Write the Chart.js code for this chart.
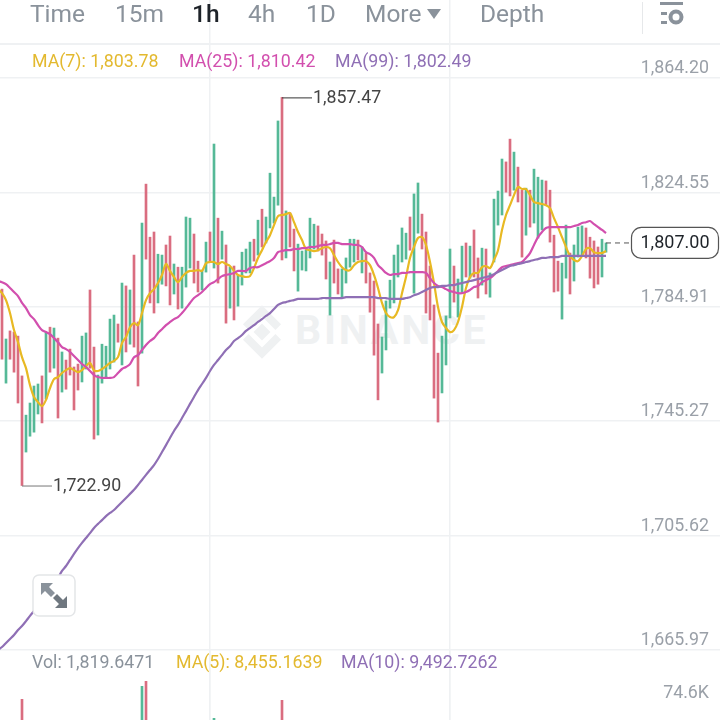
<!DOCTYPE html>
<html>
<head>
<meta charset="utf-8">
<title>ETH 1h</title>
<script src="https://cdn.jsdelivr.net/npm/chart.js@4"></script>
<style>
  html, body { margin: 0; padding: 0; background: #fff; }
  body { width: 720px; height: 720px; overflow: hidden; position: relative; font-family: Roboto, sans-serif; }
  canvas { position: absolute; left: -4px; }
  .t { position: absolute; white-space: nowrap; line-height: 1; }
  .tab { top: 2px; font-size: 24.5px; color: #8a929b; }
  .leg { font-size: 17.8px; }
  .rule { position: absolute; left: 0; width: 720px; height: 2px; background: #eff1f3; }
  .wm { left: 295px; top: 310px; font-size: 41px; font-weight: 700; letter-spacing: 2.8px; color: #eff1f2; }
</style>
</head>
<body>
<div class="rule" style="top:43px"></div>

<!-- watermark sits behind the transparent canvas -->
<svg style="position:absolute;left:234px;top:304px" width="56" height="56" viewBox="-28 -28 56 56">
  <g fill="#eff1f2" transform="rotate(45)">
    <rect x="-6" y="-6" width="12" height="12"/>
    <path d="M-19 -19H8V-11H-11V8H-19Z"/>
    <path d="M19 19H-8V11H11V-8H19Z"/>
  </g>
</svg>
<div class="t wm">BINANCE</div>

<canvas id="priceChart" width="724" height="720" style="top:0"></canvas>
<canvas id="volumeChart" width="724" height="70" style="top:650px"></canvas>

<div class="t tab" style="left:30px">Time</div>
<div class="t tab" style="left:115px">15m</div>
<div class="t tab" style="left:192px;color:#1e2329;font-weight:500">1h</div>
<div class="t tab" style="left:248px">4h</div>
<div class="t tab" style="left:306px">1D</div>
<div class="t tab" style="left:365px">More</div>
<svg style="position:absolute;left:427px;top:9px" width="14" height="11"><path d="M0 0H14L7 10Z" fill="#8a929b"/></svg>
<div class="t tab" style="left:480px">Depth</div>
<div style="position:absolute;left:642px;top:2px;width:1px;height:32px;background:#e6e8ea"></div>
<svg style="position:absolute;left:658px;top:1px" width="28" height="26">
  <rect x="2" y="1" width="23" height="3" fill="#8a929b"/>
  <rect x="3" y="11" width="6" height="3" fill="#8a929b"/>
  <rect x="3" y="20" width="6" height="3" fill="#8a929b"/>
  <circle cx="18" cy="16" r="5.5" fill="none" stroke="#8a929b" stroke-width="4"/>
</svg>

<div class="t leg" style="left:32px;top:52px;color:#e3b92f">MA(7): 1,803.78</div>
<div class="t leg" style="left:179px;top:52px;color:#d24fae">MA(25): 1,810.42</div>
<div class="t leg" style="left:335px;top:52px;color:#8f6fb5">MA(99): 1,802.49</div>

<div class="t leg" style="left:32px;top:653px;color:#8a929b">Vol: 1,819.6471</div>
<div class="t leg" style="left:176px;top:653px;color:#e3b92f">MA(5): 8,455.1639</div>
<div class="t leg" style="left:341px;top:653px;color:#8f6fb5">MA(10): 9,492.7262</div>

<svg style="position:absolute;left:32px;top:574px" width="44" height="43" viewBox="0 0 44 43">
  <rect x="1" y="1" width="42" height="41" rx="6" fill="#fff" stroke="#e4e6e8" stroke-width="1.5"/>
  <path d="M9 9H21L17 13L23 19L19 23L13 17L9 21Z" fill="#8a929b"/>
  <path d="M35 34H23L27 30L21 24L25 20L31 26L35 22Z" fill="#6f777f"/>
</svg>

<script>
// candles, one per hour
const barHigh = [
  1791.0,1773.7,1776.5,1776.1,1774.7,1760.9,1747.3,1751.5,1757.4,1758.1,
  1760.9,1776.1,1777.8,1777.5,1774.0,1769.2,1766.4,1770.2,1764.0,1765.0,
  1774.7,1775.8,1790.7,1770.9,1761.2,1771.9,1771.2,1780.6,1782.0,1778.9,
  1793.1,1792.1,1790.7,1802.8,1779.6,1813.9,1827.4,1809.0,1810.8,1803.1,
  1802.8,1806.3,1809.4,1799.7,1798.6,1798.6,1816.0,1815.6,1810.1,1800.7,
  1797.6,1807.3,1810.8,1841.3,1815.6,1811.1,1806.3,1798.6,1799.0,1795.9,
  1803.8,1804.9,1807.3,1808.3,1814.9,1818.7,1816.0,1831.2,1822.9,1849.3,
  1857.47,1818.1,1817.4,1811.8,1806.6,1804.2,1804.5,1815.6,1813.5,1812.9,
  1810.1,1807.7,1800.4,1808.0,1798.0,1798.0,1801.8,1808.3,1808.3,1808.0,
  1805.6,1803.5,1796.6,1793.8,1778.9,1774.4,1786.9,1794.1,1802.8,1806.3,
  1812.2,1810.4,1816.0,1824.0,1827.8,1817.0,1810.8,1799.0,1785.5,1768.8,
  1774.7,1781.7,1804.9,1799.0,1794.5,1805.9,1807.0,1805.9,1811.5,1801.8,
  1805.2,1804.9,1796.6,1822.2,1825.0,1836.1,1835.1,1843.0,1838.5,1833.3,
  1825.3,1826.0,1825.3,1832.6,1829.8,1828.8,1828.5,1825.3,1809.7,1800.7,
  1800.0,1813.2,1803.5,1806.3,1812.5,1812.9,1812.2,1809.0,1807.7,1805.6,
  1808.3,1807.0
];
const barLow = [
  1766.7,1758.4,1766.7,1762.2,1751.5,1722.9,1734.5,1740.0,1741.4,1747.7,
  1744.6,1752.9,1762.2,1763.6,1746.3,1755.3,1756.3,1761.2,1749.1,1756.0,
  1758.8,1763.3,1763.6,1739.0,1740.4,1758.4,1760.5,1763.3,1765.7,1772.6,
  1764.7,1769.2,1771.9,1770.9,1757.4,1768.8,1801.4,1786.2,1782.7,1786.2,
  1792.7,1792.1,1785.5,1789.3,1784.1,1784.4,1791.7,1798.3,1793.1,1790.0,
  1790.7,1796.9,1800.4,1798.3,1793.1,1801.4,1779.2,1784.4,1780.3,1785.1,
  1792.4,1796.6,1796.6,1800.7,1802.8,1805.6,1807.0,1812.2,1813.9,1820.1,
  1801.1,1801.8,1805.6,1797.3,1790.3,1797.6,1797.3,1801.8,1804.9,1804.2,
  1802.8,1794.5,1782.0,1793.1,1789.3,1788.2,1793.1,1798.6,1800.4,1801.1,
  1796.6,1793.1,1783.0,1768.1,1752.6,1761.9,1769.9,1784.4,1786.2,1795.2,
  1800.4,1801.4,1804.5,1789.6,1810.4,1804.9,1782.7,1780.3,1753.2,1744.9,
  1755.0,1764.7,1781.0,1786.5,1781.3,1790.0,1795.2,1794.8,1795.2,1787.9,
  1792.4,1789.3,1788.2,1800.4,1813.2,1816.7,1824.6,1823.3,1825.3,1821.2,
  1802.1,1809.7,1812.5,1813.9,1808.7,1811.5,1820.1,1807.3,1790.0,1790.3,
  1780.6,1794.8,1789.3,1793.8,1802.1,1802.8,1801.8,1794.8,1791.4,1792.7,
  1795.2,1803.8
];
// 1 = closed up (green), 0 = closed down (red)
const barUp = [
  0,1,0,0,0,0,1,1,1,1,
  0,1,0,1,0,1,0,0,0,0,
  1,1,0,0,1,1,1,1,1,0,
  1,0,1,0,0,1,0,0,0,1,
  1,0,0,1,0,1,1,1,0,0,
  1,1,0,1,0,1,0,1,0,1,
  1,1,1,0,1,0,1,1,1,1,
  0,1,0,0,1,1,1,1,1,0,
  0,0,1,0,0,1,1,1,1,0,
  1,0,0,0,0,1,1,1,1,1,
  1,1,0,1,1,0,0,0,0,0,
  1,1,1,0,1,1,0,1,0,0,
  1,0,1,1,1,1,0,0,1,0,
  0,1,0,1,1,1,0,0,0,0,
  1,1,0,1,1,1,0,0,0,0,
  1,1
];

// the moving averages have one extra value in front: the hour just off the left edge
const ma7 = [
  1791.0,
  1789.6,1787.2,1782.7,1776.8,1772.6,1767.4,1763.6,1757.7,1753.6,1751.8,
  1750.4,1752.6,1756.7,1759.8,1760.5,1761.9,1762.9,1763.6,1762.9,1762.2,
  1762.9,1764.3,1765.4,1762.9,1762.6,1763.3,1764.3,1765.4,1766.1,1767.4,
  1772.3,1774.4,1777.8,1779.2,1778.5,1782.7,1787.2,1789.6,1791.0,1793.1,
  1795.9,1799.7,1797.3,1795.2,1793.4,1795.2,1796.6,1797.3,1797.3,1797.6,
  1797.3,1800.0,1800.4,1800.4,1799.7,1800.4,1799.7,1799.0,1797.3,1795.9,
  1795.5,1795.2,1795.5,1798.3,1801.8,1804.5,1807.3,1809.7,1813.2,1816.3,
  1816.7,1817.0,1817.4,1814.2,1810.8,1808.0,1804.9,1804.5,1804.2,1804.5,
  1805.2,1805.6,1805.2,1802.8,1800.4,1798.6,1797.6,1797.6,1799.3,1800.4,
  1800.7,1800.7,1799.3,1795.9,1791.4,1786.2,1782.7,1781.3,1781.3,1783.7,
  1789.6,1795.2,1801.8,1805.6,1808.7,1809.0,1806.3,1800.4,1793.1,1784.8,
  1779.6,1777.5,1776.1,1776.8,1779.6,1784.8,1791.4,1795.2,1796.6,1796.6,
  1798.6,1799.0,1798.3,1801.1,1804.5,1811.5,1816.7,1820.1,1823.6,1826.4,
  1825.7,1825.7,1823.6,1821.2,1820.8,1820.5,1820.1,1819.1,1815.6,1812.5,
  1809.0,1805.6,1802.5,1801.1,1800.7,1802.5,1804.9,1805.2,1803.8,1803.5,
  1803.5,1804.2
];
const ma25 = [
  1793.8,
  1793.4,1792.7,1791.4,1790.0,1788.6,1786.2,1784.4,1782.0,1780.6,1778.5,
  1776.8,1776.1,1775.4,1774.0,1772.6,1770.9,1770.2,1769.2,1767.8,1766.4,
  1765.0,1764.0,1762.6,1761.2,1760.5,1760.2,1760.2,1760.2,1760.5,1761.9,
  1763.3,1764.0,1765.0,1767.4,1768.1,1769.9,1771.6,1773.0,1774.0,1775.8,
  1777.1,1778.5,1779.6,1780.6,1781.3,1782.7,1784.4,1786.2,1787.9,1788.9,
  1790.0,1791.4,1792.7,1793.4,1794.5,1795.5,1795.9,1796.2,1796.6,1797.3,
  1797.3,1797.3,1798.3,1798.6,1798.6,1799.3,1800.0,1800.7,1801.8,1803.8,
  1804.2,1804.5,1804.5,1804.9,1804.9,1805.2,1805.2,1805.6,1805.6,1805.9,
  1806.3,1806.3,1806.6,1807.0,1807.0,1806.6,1806.6,1806.6,1806.3,1806.3,
  1805.6,1803.8,1803.1,1801.8,1799.3,1798.0,1796.6,1795.9,1796.2,1796.2,
  1796.6,1796.6,1796.9,1796.9,1796.9,1796.9,1796.6,1794.8,1793.1,1792.1,
  1791.7,1791.0,1790.3,1790.0,1789.6,1789.6,1790.0,1790.7,1791.7,1792.1,
  1793.4,1794.1,1794.8,1795.9,1797.3,1798.6,1799.0,1799.3,1799.7,1800.0,
  1800.4,1801.8,1803.5,1806.3,1809.0,1810.8,1812.2,1812.5,1812.5,1812.5,
  1812.5,1812.5,1812.5,1812.9,1813.2,1813.9,1814.2,1814.6,1813.5,1812.5,
  1811.5,1810.4
];
const ma99 = [
  1665.9,
  1666.9,1668.3,1669.7,1671.1,1672.8,1674.2,1675.9,1677.7,1679.4,1681.1,
  1683.2,1684.9,1686.7,1688.8,1690.8,1693.3,1695.0,1697.1,1699.2,1701.2,
  1703.0,1704.7,1706.4,1708.2,1709.6,1710.9,1712.3,1713.4,1714.4,1715.8,
  1717.2,1718.6,1720.0,1721.4,1723.1,1724.8,1726.6,1728.3,1730.0,1732.1,
  1734.5,1736.9,1739.4,1741.8,1743.9,1746.3,1748.7,1751.2,1753.6,1756.0,
  1758.1,1760.2,1762.6,1764.7,1766.4,1768.1,1769.9,1771.2,1773.0,1774.0,
  1775.1,1776.5,1777.5,1778.5,1779.6,1780.6,1781.7,1782.7,1784.1,1785.5,
  1786.2,1786.5,1786.9,1787.2,1787.6,1787.6,1787.6,1787.6,1787.6,1787.6,
  1787.9,1787.9,1787.9,1787.9,1787.9,1787.9,1788.2,1788.2,1788.2,1788.2,
  1788.2,1788.2,1788.2,1788.2,1787.9,1787.9,1787.9,1787.6,1787.6,1787.6,
  1787.6,1787.9,1788.2,1788.9,1789.3,1790.0,1790.7,1791.4,1791.7,1791.7,
  1792.1,1792.1,1792.4,1792.4,1792.8,1793.1,1793.4,1793.8,1794.1,1794.5,
  1794.8,1795.2,1795.5,1796.2,1796.9,1797.6,1798.3,1799.0,1799.3,1799.7,
  1800.0,1800.4,1800.7,1801.1,1801.4,1801.8,1801.8,1802.1,1802.1,1802.1,
  1802.5,1802.5,1802.5,1802.5,1802.5,1802.5,1802.5,1802.5,1802.5,1802.5,
  1802.5,1802.5
];

const priceTicks = [1864.20, 1824.55, 1784.91, 1745.27, 1705.62, 1665.97];
const lastPrice = 1807.00;
// the two marked extremes: slot index and price
const extremeSlot = [71, 6];
const extremePrice = [1857.47, 1722.90];

// only the tallest volume bars reach into the visible part of the pane
const volumeSlot = [6, 36, 37, 54, 71];
const volumeValue = [76.4, 84.2, 87.2, 65.0, 75.8];
const volumeTicks = [74.6];

// candle slots: slot 0 is off screen, then the candles, then empty room on the right
const slots = Array.from({ length: 181 }, (_, i) => i);
const gridSlots = [53, 113];

const UP = '#55b997';
const DOWN = '#da6d80';
const GRID = '#eff1f3';
const AXIS_TEXT = '#9aa0a8';
const FONT = 'Roboto, sans-serif';

const barColors = [UP].concat(barUp.map(up => (up ? UP : DOWN)));
const priceFmt = v => v.toLocaleString('en-US', { minimumFractionDigits: 2, maximumFractionDigits: 2 });

function xAxis() {
  return {
    type: 'category',
    ticks: { display: false, autoSkip: false },
    border: { display: false },
    afterFit: s => { s.height = 0; },
    grid: {
      offset: false,
      drawTicks: false,
      lineWidth: 1.5,
      color: c => (gridSlots.includes(c.index) ? GRID : 'rgba(0,0,0,0)'),
    },
  };
}

function yTicks(callback) {
  return {
    mirror: true,
    padding: -11,
    labelOffset: -9,
    color: AXIS_TEXT,
    font: { family: FONT, size: 17.8 },
    autoSkip: false,
    callback,
  };
}

// high/low marks, last price tag
const pricePlugin = {
  id: 'priceMarks',
  afterDatasetsDraw(chart) {
    const { ctx, scales: { x, y } } = chart;
    ctx.save();
    ctx.font = '17.8px ' + FONT;
    ctx.textBaseline = 'middle';
    ctx.textAlign = 'left';
    extremeSlot.forEach((slot, i) => {
      const px = x.getPixelForValue(slot);
      const py = y.getPixelForValue(extremePrice[i]);
      ctx.strokeStyle = i === 0 ? '#333' : '#777';
      ctx.lineWidth = 1;
      ctx.beginPath();
      ctx.moveTo(px, py + 0.5);
      ctx.lineTo(px + 30, py + 0.5);
      ctx.stroke();
      ctx.fillStyle = '#444';
      ctx.fillText(priceFmt(extremePrice[i]), px + 31, py + 1);
    });

    const ly = y.getPixelForValue(lastPrice);
    const lx = x.getPixelForValue(barHigh.length);
    ctx.strokeStyle = '#555';
    ctx.setLineDash([5, 4]);
    ctx.beginPath();
    ctx.moveTo(lx, ly);
    ctx.lineTo(634, ly);
    ctx.stroke();
    ctx.setLineDash([]);
    ctx.fillStyle = '#fff';
    ctx.lineWidth = 1.2;
    ctx.beginPath();
    ctx.roundRect(635.5, ly - 15.5, 87, 31, 10);
    ctx.fill();
    ctx.stroke();
    ctx.fillStyle = '#1e2329';
    ctx.font = '18px ' + FONT;
    ctx.textAlign = 'center';
    ctx.fillText(priceFmt(lastPrice), 679, ly + 1);
    ctx.restore();
  },
};

function maLine(label, data, color, order) {
  return {
    type: 'line',
    label,
    data,
    order,
    borderColor: color,
    borderWidth: 2.2,
    pointRadius: 0,
    tension: 0.3,
    fill: false,
  };
}

new Chart(document.getElementById('priceChart'), {
  type: 'bar',
  data: {
    labels: slots,
    datasets: [
      maLine('MA(99)', ma99, '#8f6fb5', 1),
      maLine('MA(25)', ma25, '#d24fae', 2),
      maLine('MA(7)', ma7, '#e8b923', 3),
      {
        label: 'Price',
        data: [null].concat(barHigh.map((h, i) => [barLow[i], h])),
        backgroundColor: barColors,
        barThickness: 2,
        order: 4,
      },
    ],
  },
  options: {
    responsive: false,
    animation: false,
    events: [],
    layout: { padding: 0 },
    plugins: { legend: { display: false }, tooltip: { enabled: false } },
    scales: {
      x: xAxis(),
      y: {
        position: 'right',
        min: 1641.6,
        max: 1891.24,
        afterFit: s => { s.width = 0; },
        afterBuildTicks: s => { s.ticks = priceTicks.map(value => ({ value })); },
        border: { display: false },
        grid: { color: GRID, lineWidth: 1.5, drawTicks: false },
        ticks: yTicks(priceFmt),
      },
    },
  },
  plugins: [pricePlugin],
});

new Chart(document.getElementById('volumeChart'), {
  type: 'bar',
  data: {
    labels: slots,
    datasets: [{
      label: 'Vol',
      data: slots.map(i => {
        const k = volumeSlot.indexOf(i);
        return k >= 0 ? volumeValue[k] : null;
      }),
      backgroundColor: barColors,
      barThickness: 2,
    }],
  },
  options: {
    responsive: false,
    animation: false,
    events: [],
    layout: { padding: 0 },
    plugins: { legend: { display: false }, tooltip: { enabled: false } },
    scales: {
      x: xAxis(),
      y: {
        position: 'right',
        min: 64,
        max: 106,
        afterFit: s => { s.width = 0; },
        afterBuildTicks: s => { s.ticks = volumeTicks.map(value => ({ value })); },
        border: { display: false },
        grid: { display: false, drawTicks: false },
        ticks: yTicks(v => v + 'K'),
      },
    },
  },
});
</script>
</body>
</html>
